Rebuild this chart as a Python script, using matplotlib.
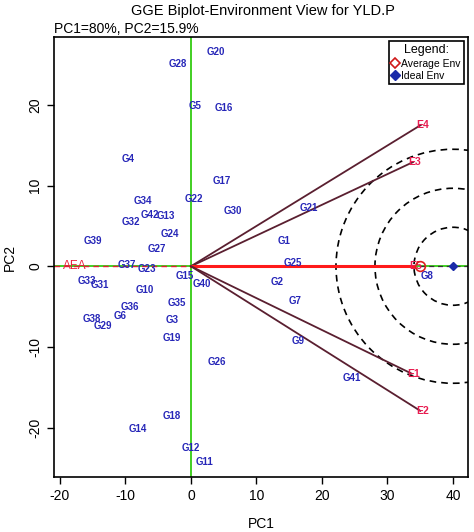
import numpy as np
import matplotlib
matplotlib.use("Agg")
import matplotlib.pyplot as plt
from matplotlib.patches import Ellipse
from matplotlib.lines import Line2D

plt.rcParams['font.family'] = ['Liberation Sans', 'DejaVu Sans']
plt.rcParams['axes.unicode_minus'] = False

# genotype scores (PC1, PC2)
gen_names = ['G20', 'G28', 'G5', 'G16', 'G4', 'G17', 'G34', 'G22', 'G30', 'G21',
             'G42', 'G13', 'G32', 'G24', 'G39', 'G27', 'G1', 'G37', 'G23', 'G25',
             'G15', 'G40', 'G2', 'G33', 'G31', 'G10', 'G7', 'G36', 'G6', 'G35',
             'G38', 'G29', 'G3', 'G9', 'G19', 'G26', 'G41', 'G18', 'G14', 'G12',
             'G11', 'G8']
gen_pc1 = [3.8, -2.0, 0.6, 5.0, -9.6, 4.7, -7.3, 0.5, 6.4, 18.0,
           -6.3, -3.8, -9.2, -3.2, -15.0, -5.2, 14.2, -9.8, -6.7, 15.6,
           -0.9, 1.7, 13.1, -15.9, -13.9, -7.0, 15.9, -9.3, -10.8, -2.1,
           -15.2, -13.4, -2.9, 16.4, -2.9, 4.0, 24.6, -3.0, -8.1, 0.0,
           2.1, 36.0]
gen_pc2 = [26.6, 25.0, 19.9, 19.6, 13.3, 10.6, 8.1, 8.3, 6.8, 7.2,
           6.3, 6.2, 5.5, 4.0, 3.1, 2.1, 3.1, 0.2, -0.4, 0.4,
           -1.2, -2.2, -1.9, -1.8, -2.3, -2.9, -4.3, -5.0, -6.1, -4.6,
           -6.5, -7.4, -6.6, -9.2, -8.9, -11.8, -13.9, -18.6, -20.2, -22.5,
           -24.2, -1.2]

# environment vectors
env_names = ['E4', 'E3', 'E5', 'E1', 'E2']
env_pc1 = [35.1, 33.9, 34.0, 33.7, 35.0]
env_pc2 = [17.5, 12.9, 0.0, -13.3, -17.9]

avg_env = (35.0, 0.0)
ideal_env = (40.0, 0.0)
circle_px = [39, 78, 117]   # radii of concentric rings (pixels)

fig = plt.figure(figsize=(4.74, 5.32), dpi=100)
ax = fig.add_axes([0.114, 0.1034, 0.8734, 0.8271])
xlim = (-20.9, 42.3)
ylim = (-26.1, 28.4)
ax.set_xlim(*xlim)
ax.set_ylim(*ylim)

# pixel -> data scale for drawing round rings
sx = (xlim[1] - xlim[0]) / (0.8734 * 474)
sy = (ylim[1] - ylim[0]) / (0.8271 * 532)

# axes lines
ax.axvline(0, color='#33cc11', lw=1.3, zorder=1)
ax.axhline(0, color='#33cc11', lw=1.3, zorder=1)
ax.plot([xlim[0], 0], [0, 0], color='#e02030', lw=1.0, ls=(0, (4, 3)), zorder=2)
ax.plot([avg_env[0], xlim[1]], [0, 0], color='#333333', lw=0.9, ls=(0, (4, 3)), zorder=2)
ax.text(-19.6, 0, 'AEA', color='#e8203a', fontsize=8.5, va='center', ha='left', zorder=3)

# concentric rings around ideal env
for r in circle_px:
    e = Ellipse(ideal_env, 2 * r * sx, 2 * r * sy, fill=False, ec='black',
                lw=1.2, ls=(0, (4, 3)), zorder=2)
    ax.add_patch(e)

# environment vectors
for n, x, y in zip(env_names, env_pc1, env_pc2):
    if n == 'E5':
        ax.plot([0, x], [0, y], color='#ff1a1a', lw=2.2, zorder=3)
    else:
        ax.plot([0, x], [0, y], color='#5a1f30', lw=1.3, zorder=3)
    ax.text(x + 0.3, y, n, color='#e81c50', fontsize=7.5, fontweight='bold',
            ha='center', va='center', zorder=4)

# genotypes
for n, x, y in zip(gen_names, gen_pc1, gen_pc2):
    ax.text(x, y, n, color='#2626b8', fontsize=7, fontweight='bold',
            ha='center', va='center', zorder=4)

ax.plot(*avg_env, marker='o', ms=7, mfc='none', mec='#e02020', mew=1.2, zorder=5)
ax.plot(*ideal_env, marker='D', ms=4.5, color='#1a2aa8', zorder=5)

ax.set_xticks([-20, -10, 0, 10, 20, 30, 40])
ax.set_yticks([-20, -10, 0, 10, 20])
ax.tick_params(labelsize=10, length=5, width=1, direction='out')
plt.setp(ax.get_yticklabels(), rotation=90, va='center')
for s in ax.spines.values():
    s.set_linewidth(1.2)

ax.set_xlabel('PC1', fontsize=10, labelpad=10)
ax.set_ylabel('PC2', fontsize=10, labelpad=8)

fig.text(0.555, 0.980, 'GGE Biplot-Environment View for YLD.P', fontsize=10.5,
         ha='center', va='center')
fig.text(0.114, 0.945, 'PC1=80%, PC2=15.9%', fontsize=10, ha='left', va='center')

handles = [Line2D([], [], marker='D', ls='none', mfc='none', mec='#d01818', ms=5, mew=1.2),
           Line2D([], [], marker='D', ls='none', color='#1a2aa8', ms=5)]
leg = ax.legend(handles, ['Average Env', 'Ideal Env'], title='Legend:',
                loc='upper right', bbox_to_anchor=(0.99, 0.99), borderaxespad=0,
                fontsize=7.5, title_fontsize=9, fancybox=False, framealpha=1,
                edgecolor='black', handlelength=0.6, handletextpad=0.3,
                borderpad=0.3, labelspacing=0.2)
leg.get_frame().set_linewidth(1.2)

fig.savefig('out.png', dpi=100)
